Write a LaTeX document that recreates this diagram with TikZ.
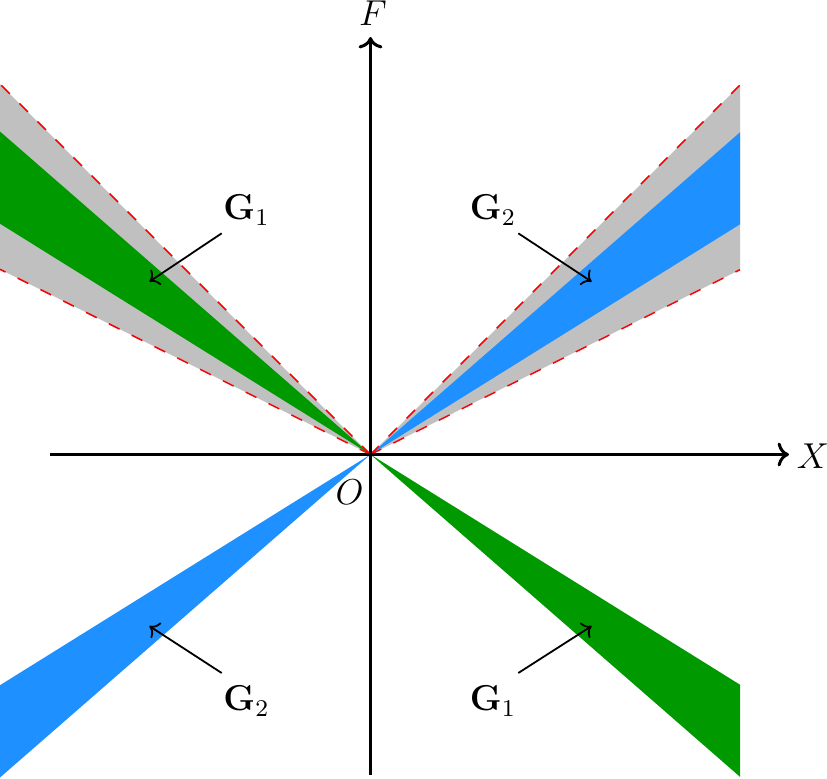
\documentclass[tikz,border=0pt]{standalone}
\usetikzlibrary{arrows.meta}
\definecolor{wgreen}{RGB}{0,153,0}
\definecolor{wblue}{RGB}{30,144,255}
\definecolor{wgray}{RGB}{192,192,192}
\tikzset{
  axisline/.style={line width=1pt,->},
  redline/.style={red,line width=0.5pt,dash pattern=on 4pt off 4.5pt},
  annot/.style={line width=0.6pt,->},
  lab/.style={inner sep=0pt,font=\fontsize{12}{14}\selectfont},
}
\begin{document}
\begin{tikzpicture}[x=0.3333pt,y=-0.3333pt]
\useasboundingbox (0,0) rectangle (827,778);
\coordinate (O) at (370.5,454.5);
% gray wedges
\fill[wgray] (O) -- (0,84) -- (0,269.3) -- cycle;
\fill[wgray] (O) -- (740,85) -- (740,269.7) -- cycle;
% coloured wedges
\fill[wgreen] (O) -- (0,131.5) -- (0,223.7) -- cycle;
\fill[wblue] (O) -- (740,132.3) -- (740,224.3) -- cycle;
\fill[wblue] (O) -- (0,685.2) -- (0,777.5) -- cycle;
\fill[wgreen] (O) -- (740,684.7) -- (740,776.8) -- cycle;
% red dashed boundaries
\coordinate (r1) at (0,84);
\coordinate (r2) at (0,269.3);
\coordinate (r3) at (740,85);
\coordinate (r4) at (740,269.7);
\draw[redline] (O) -- (r1);
\draw[redline] (O) -- (r2);
\draw[redline] (O) -- (r3);
\draw[redline] (O) -- (r4);
% axes
\coordinate (xs) at (50,454.5);
\coordinate (xe) at (789,454.5);
\coordinate (ys) at (370.5,775);
\coordinate (ye) at (370.5,37);
\draw[axisline] (xs) -- (xe);
\draw[axisline] (ys) -- (ye);
\node[lab] (Fl) at (373,13) {$F$};
\node[lab] (Xl) at (813,456) {$X$};
\node[lab] (Ol) at (349.5,492.5) {$O$};
% labels
\node[lab] (g1a) at (246.5,210) {$\mathbf{G}_1$};
\node[lab] (g2a) at (493,210) {$\mathbf{G}_2$};
\node[lab] (g2b) at (246.5,701) {$\mathbf{G}_2$};
\node[lab] (g1b) at (493,701) {$\mathbf{G}_1$};
\coordinate (a1s) at (221.7,233.3);
\coordinate (a1e) at (149.3,281.7);
\coordinate (a2s) at (518.3,233.3);
\coordinate (a2e) at (591.7,281.7);
\coordinate (a3s) at (221.7,673);
\coordinate (a3e) at (149.3,626);
\coordinate (a4s) at (518.3,673);
\coordinate (a4e) at (591.7,626);
\draw[annot] (a1s) -- (a1e);
\draw[annot] (a2s) -- (a2e);
\draw[annot] (a3s) -- (a3e);
\draw[annot] (a4s) -- (a4e);
\end{tikzpicture}
\end{document}
